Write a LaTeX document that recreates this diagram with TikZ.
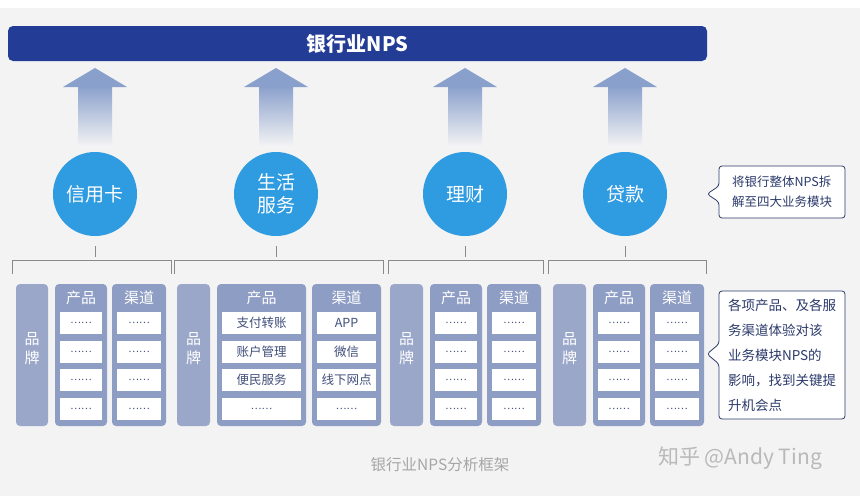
\documentclass[tikz,border=0pt]{standalone}
\usepackage{fontspec}
\setmainfont{Noto Sans CJK SC}
\definecolor{bg}{HTML}{F3F3F4}
\definecolor{barblue}{HTML}{233D96}
\definecolor{circ}{HTML}{2F9BE0}
\definecolor{col}{HTML}{8E9DC3}
\definecolor{brand}{HTML}{9AA7C9}
\definecolor{arr}{HTML}{8AA0CC}
\definecolor{callout}{HTML}{2B3A6B}
\definecolor{brk}{HTML}{8A8A8A}
\begin{document}
\begin{tikzpicture}[x=1pt,y=-1pt,
  circ/.style={circle,fill=circ,minimum size=84pt,inner sep=0pt,text=white,font=\fontsize{19}{23}\selectfont,align=center},
  colbox/.style={fill=col,rounded corners=4pt},
  brandbox/.style={fill=brand,rounded corners=4pt},
  cell/.style={fill=white,inner sep=0pt,font=\fontsize{12.5}{14}\selectfont,text=callout!90},
  head/.style={text=white,font=\fontsize{15}{17}\selectfont},
  brk/.style={draw=brk,line width=1pt},
  call/.style={draw=callout,line width=0.8pt,fill=white,rounded corners=3pt}]
\fill[white] (0,0) rectangle (860,496);
\fill[bg] (0,8) rectangle (860,496);
\node[fill=barblue,rounded corners=5pt,minimum width=699pt,minimum height=35pt,inner sep=0pt,text=white,font=\bfseries\fontsize{20}{23}\selectfont] (bar) at (357.5,43.5) {银行业NPS};
% arrows
\foreach \x/\n in {95/a1,276/a2,465/a3,625/a4}{
  \shade[top color=arr,bottom color=bg] (\x-17,86) rectangle (\x+17,146);
  \fill[arr] (\x-32,87) -- (\x,68) -- (\x+32,87) -- cycle;
  \coordinate (\n) at (\x,68);
}
\node[circ] (c1) at (95,194) {信用卡};
\node[circ] (c2) at (276,194) {生活\\服务};
\node[circ] (c3) at (465,194) {理财};
\node[circ] (c4) at (625,194) {贷款};
% brackets
\foreach \c/\l/\r in {c1/12/171,c2/174/383,c3/388/543,c4/548/706}{
  \draw[brk] (\c.south) ++(0,10) -- ++(0,11);
  \draw[brk] (\l,274) -- (\l,260) -- (\r,260) -- (\r,274);
}
% columns
\newcommand{\grp}[6]{%
 \fill[brandbox] (#1,284) rectangle (#2,426);
 \node[head] at ({(#1+#2)/2},339) {品};
 \node[head] at ({(#1+#2)/2},358) {牌};
 \fill[colbox] (#3,284) rectangle (#4,426);
 \fill[colbox] (#5,284) rectangle (#6,426);
 \node[head] at ({(#3+#4)/2},298) {产品};
 \node[head] at ({(#5+#6)/2},298) {渠道};
}
\grp{16}{48}{55}{107}{112}{166}
\grp{177}{210}{217}{306}{312}{381}
\grp{390}{423}{430}{482}{487}{541}
\grp{553}{586}{593}{645}{650}{704}
\foreach \a/\b in {55/107,112/166,430/482,487/541,593/645,650/704}{
 \foreach \y in {323,351.5,380,408.5}{
  \node[cell,minimum width={\b-\a-10},minimum height=22pt,font=\fontsize{10}{12}\selectfont] at ({(\a+\b)/2},\y) {……};
 }
}
\node[cell,minimum width=79pt,minimum height=22pt] (p1) at (261.5,323) {支付转账};
\node[cell,minimum width=79pt,minimum height=22pt] (p2) at (261.5,351.5) {账户管理};
\node[cell,minimum width=79pt,minimum height=22pt] (p3) at (261.5,380) {便民服务};
\node[cell,minimum width=79pt,minimum height=22pt,font=\fontsize{10}{12}\selectfont] (p4) at (261.5,408.5) {……};
\node[cell,minimum width=59pt,minimum height=22pt] (q1) at (346.5,323) {APP};
\node[cell,minimum width=59pt,minimum height=22pt] (q2) at (346.5,351.5) {微信};
\node[cell,minimum width=59pt,minimum height=22pt] (q3) at (346.5,380) {线下网点};
\node[cell,minimum width=59pt,minimum height=22pt,font=\fontsize{10}{12}\selectfont] (q4) at (346.5,408.5) {……};
% callouts
\draw[call] (719,166) -- (845,166) -- (845,218) -- (719,218) -- (719,202) -- (707,194) -- (719,186) -- cycle;
\node[text=callout,align=left,font=\fontsize{12.5}{20}\selectfont] (t1) at (782,192) {将银行整体NPS拆\\解至四大业务模块};
\draw[call] (719,291) -- (845,291) -- (845,419) -- (719,419) -- (719,364) -- (707,354) -- (719,344) -- cycle;
\node[text=callout,align=left,font=\fontsize{13.5}{25}\selectfont] (t2) at (782,355) {各项产品、及各服\\务渠道体验对该\\业务模块NPS的\\影响，找到关键提\\升机会点};
\node[text=gray!70,font=\fontsize{15.5}{18}\selectfont] (cap) at (440,465) {银行业NPS分析框架};
\node[text=gray!55,font=\fontsize{21}{24}\selectfont] (wm) at (740,458) {知乎 @Andy Ting};
\end{tikzpicture}
\end{document}
